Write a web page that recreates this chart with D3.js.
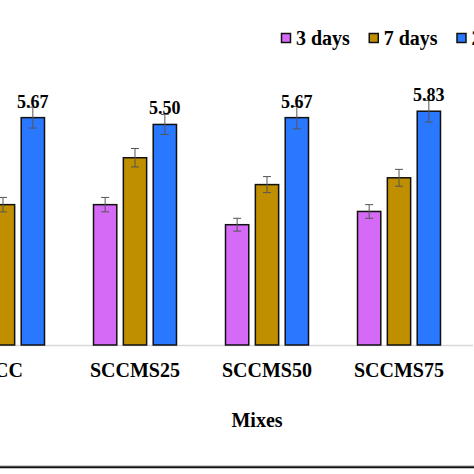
<!DOCTYPE html>
<html>
<head>
<meta charset="utf-8">
<script src="https://cdn.jsdelivr.net/npm/d3@7"></script>
<style>
  body { margin: 0; background: white; }
  svg { display: block; }
  text { font-family: "Liberation Serif", "Times New Roman", serif; font-weight: bold; fill: black; }
</style>
</head>
<body>
<div class="board"></div>
<script>
var width = 474,
    height = 474

// data
var mixes = ["SCC", "SCCMS25", "SCCMS50", "SCCMS75"]
var ages = ["3 days", "7 days", "28 days"]
var strength3 = [3.17, 3.50, 3.00, 3.33]
var strength7 = [3.50, 4.67, 4.00, 4.17]
var strength28 = [5.67, 5.50, 5.67, 5.83]
var err3 = [0.18, 0.18, 0.16, 0.17]
var err7 = [0.18, 0.23, 0.20, 0.21]
var err28 = [0.26, 0.25, 0.28, 0.27]

AGE_COLORS = ["#D56AF6", "#BF8F00", "#2A78FF"]

BASE_Y = 345
BAR_STROKE = 1.5
CAP_WIDTH = 8

var rows = []
mixes.forEach((m, i) => {
    rows.push({ mix: m, age: ages[0], value: strength3[i], err: err3[i] })
    rows.push({ mix: m, age: ages[1], value: strength7[i], err: err7[i] })
    rows.push({ mix: m, age: ages[2], value: strength28[i], err: err28[i] })
})

var svg = d3.select(".board")
    .append("svg")
    .attr("width", width)
    .attr("height", height)

let mixScale = d3.scaleBand()
    .domain(mixes)
    .range([-63, 465])

let ageScale = d3.scaleBand()
    .domain(ages)
    .range([-41.5, 41.5])
    .paddingInner(0.22)

let yScale = d3.scaleLinear()
    .domain([0, 7])
    .range([BASE_Y, 64.3])

let barX = d => mixScale(d.mix) + mixScale.bandwidth() / 2 + ageScale(d.age)
let barCenter = d => barX(d) + ageScale.bandwidth() / 2

// baseline
svg.append("line")
    .attr("x1", 0)
    .attr("x2", 473)
    .attr("y1", yScale(0) + 0.5)
    .attr("y2", yScale(0) + 0.5)
    .attr("stroke", "#d9d9d9")
    .attr("stroke-width", 1.5)

svg.selectAll(".bar")
    .data(rows)
    .enter()
    .append("rect")
    .classed("bar", true)
    .attr("x", barX)
    .attr("y", d => yScale(d.value))
    .attr("width", ageScale.bandwidth())
    .attr("height", d => yScale(0) - yScale(d.value))
    .attr("fill", d => AGE_COLORS[ages.indexOf(d.age)])
    .attr("stroke", "#111")
    .attr("stroke-width", BAR_STROKE)

// error bars
let errs = svg.selectAll(".err")
    .data(rows)
    .enter()
    .append("g")
    .classed("err", true)
    .attr("stroke", "#555")
    .attr("stroke-width", 1)

errs.append("line")
    .attr("x1", barCenter)
    .attr("x2", barCenter)
    .attr("y1", d => yScale(d.value + d.err))
    .attr("y2", d => yScale(d.value - d.err))

errs.append("line")
    .attr("x1", d => barCenter(d) - CAP_WIDTH / 2)
    .attr("x2", d => barCenter(d) + CAP_WIDTH / 2)
    .attr("y1", d => yScale(d.value + d.err))
    .attr("y2", d => yScale(d.value + d.err))

errs.append("line")
    .attr("x1", d => barCenter(d) - CAP_WIDTH / 2)
    .attr("x2", d => barCenter(d) + CAP_WIDTH / 2)
    .attr("y1", d => yScale(d.value - d.err))
    .attr("y2", d => yScale(d.value - d.err))

// value labels on the 28 day bars
svg.selectAll(".valueLabel")
    .data(rows.filter(d => d.age == ages[2]))
    .enter()
    .append("text")
    .classed("valueLabel", true)
    .attr("x", barCenter)
    .attr("y", d => yScale(d.value) - 10)
    .attr("text-anchor", "middle")
    .attr("font-size", 18)
    .text(d => d3.format(".2f")(d.value))

// category labels
svg.selectAll(".mixLabel")
    .data(mixes)
    .enter()
    .append("text")
    .classed("mixLabel", true)
    .attr("x", d => mixScale(d) + mixScale.bandwidth() / 2)
    .attr("y", 377)
    .attr("text-anchor", "middle")
    .attr("font-size", 20)
    .text(d => d)

svg.append("text")
    .attr("x", 257)
    .attr("y", 427)
    .attr("text-anchor", "middle")
    .attr("font-size", 20)
    .text("Mixes")

// legend
let legendScale = d3.scalePoint()
    .domain(ages)
    .range([281, 456.5])

let legendItems = svg.selectAll(".legendItem")
    .data(ages)
    .enter()
    .append("g")
    .classed("legendItem", true)
    .attr("transform", d => `translate(${legendScale(d)}, 0)`)

legendItems.append("rect")
    .attr("x", 0.5)
    .attr("y", 33.5)
    .attr("width", 9)
    .attr("height", 9)
    .attr("fill", (d, i) => AGE_COLORS[i])
    .attr("stroke", "#111")
    .attr("stroke-width", 1.5)

legendItems.append("text")
    .attr("x", 15)
    .attr("y", 45)
    .attr("font-size", 20)
    .text(d => d)

// frame line at the bottom
svg.append("line")
    .attr("x1", 0)
    .attr("x2", width)
    .attr("y1", 465.5)
    .attr("y2", 465.5)
    .attr("stroke", "#ccc")
    .attr("stroke-width", 1)

svg.append("line")
    .attr("x1", 0)
    .attr("x2", width)
    .attr("y1", 467.3)
    .attr("y2", 467.3)
    .attr("stroke", "#111")
    .attr("stroke-width", 2)
</script>
</body>
</html>
